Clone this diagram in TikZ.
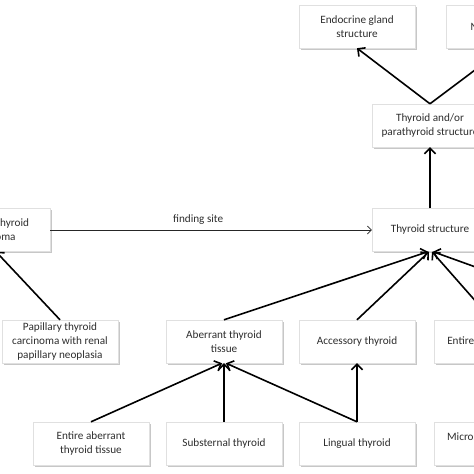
\documentclass[tikz,border=0pt]{standalone}
\usepackage{fontspec}
\setmainfont{Carlito}
\usetikzlibrary{arrows.meta,shadows}
\definecolor{txt}{HTML}{2E2E2E}
\tikzset{
  box/.style={rectangle, fill=white, draw=black!12, line width=0.4pt,
    minimum width=116pt, minimum height=43pt, inner sep=0pt,
    align=center, text=txt,
    font=\fontsize{11.2pt}{14pt}\selectfont,
    drop shadow={shadow xshift=1.6pt, shadow yshift=-1.6pt, fill=black, opacity=0.22}},
  isa/.style={draw=black, line width=1.6pt,
    -{Straight Barb[length=5.5pt,width=11pt,line width=1.6pt]}},
  rel/.style={draw=black!85, line width=0.7pt,
    -{Straight Barb[length=4pt,width=8pt,line width=0.7pt]}},
  lbl/.style={text=txt, font=\fontsize{11.2pt}{14pt}\selectfont, inner sep=0pt}
}
\begin{document}
\begin{tikzpicture}[x=1pt,y=-1pt]
\useasboundingbox (0,0) rectangle (474,474);
\clip (0,0) rectangle (474,474);
\fill[white] (0,0) rectangle (474,474);
% nodes
\node[box] (endo) at (357,26.5) {Endocrine gland\\structure};
\node[box] (neck) at (504,26.5) {Neck structure};
\node[box] (tp) at (430,125.5) {Thyroid and/or\\parathyroid structure};
\node[box] (ts) at (430,230) {Thyroid structure};
\node[box] (ptc) at (-8,230) {Papillary thyroid\\carcinoma};
\node[box] (ptcr) at (60,341.5) {Papillary thyroid\\carcinoma with renal\\papillary neoplasia};
\node[box] (abt) at (224,341.5) {Aberrant thyroid\\tissue};
\node[box] (acc) at (357,341.5) {Accessory thyroid};
\node[box] (ent) at (492,341.5) {Entire thyroid gland};
\node[box] (eat) at (91,443.5) {Entire aberrant\\thyroid tissue};
\node[box] (sub) at (224,443.5) {Substernal thyroid};
\node[box] (ling) at (357,443.5) {Lingual thyroid};
\node[box] (mic) at (492,443.5) {Microscopic thyroid\\tissue};
\coordinate (offr) at (623,320);
% connectors
\draw[isa] (tp.north) -- (endo.south);
\draw[isa] (tp.north) -- (neck.south);
\draw[isa] (ts.north) -- (tp.south);
\draw[rel] (ptc.east) -- node[lbl, pos=0.46, above=5pt] {finding site} (ts.west);
\draw[isa] (ptcr.north) -- ([xshift=4pt]ptc.south);
\draw[isa] (abt.north) -- ([xshift=-2pt]ts.south);
\draw[isa] (acc.north) -- ([xshift=-1pt]ts.south);
\draw[isa] (ent.north) -- ([xshift=2pt]ts.south);
\draw[isa] (offr) -- ([xshift=3pt]ts.south);
\draw[isa] (eat.north) -- ([xshift=-2pt]abt.south);
\draw[isa] (sub.north) -- (abt.south);
\draw[isa] (ling.north) -- ([xshift=2pt]abt.south);
\draw[isa] (ling.north) -- (acc.south);
\end{tikzpicture}
\end{document}
